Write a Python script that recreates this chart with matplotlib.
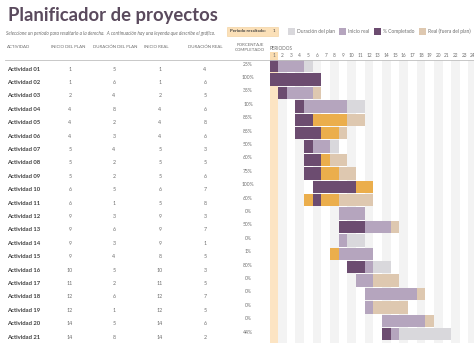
import matplotlib
matplotlib.use("Agg")
import matplotlib.pyplot as plt
import matplotlib.transforms as mtransforms
from matplotlib.patches import Rectangle
from matplotlib.lines import Line2D

activities = [f"Actividad {i:02d}" for i in range(1, 22)]
plan_start = [1, 1, 2, 4, 4, 4, 5, 5, 5, 6, 6, 9, 9, 9, 9, 10, 11, 12, 12, 14, 14]
plan_dur = [5, 6, 4, 8, 2, 3, 4, 2, 2, 5, 1, 3, 6, 3, 4, 5, 2, 6, 1, 5, 8]
actual_start = [1, 1, 2, 4, 4, 4, 5, 5, 5, 6, 5, 9, 9, 9, 8, 10, 11, 12, 12, 14, 14]
actual_dur = [4, 6, 5, 6, 8, 6, 3, 5, 6, 7, 8, 3, 7, 1, 5, 3, 5, 7, 5, 6, 2]
pct_complete = [25, 100, 35, 10, 85, 85, 50, 60, 75, 100, 60, 0, 50, 0, 1, 80, 0, 0, 0, 0, 44]
periods = list(range(1, 25))
highlight_period = 1

headers = ["ACTIVIDAD", "INICIO DEL PLAN", "DURACIÓN DEL PLAN", "INICIO REAL",
           "DURACIÓN REAL", "PORCENTAJE\nCOMPLETADO"]
legend_labels = ["Duración del plan", "Inicio real", "% Completado", "Real (fuera del plan)"]

colors = {
    "plan": "#D9D8DC",
    "actual": "#B5A5BE",
    "done": "#6C4C70",
    "beyond": "#DEC8B0",
    "done_beyond": "#EBAE4C",
}
title_color = "#5A4A5D"
text_dark = "#404040"
text_grey = "#6E6E6E"

W, H = 474, 343
FONT = "Lato"


def fx(x):
    return x / W


def fy(y):
    return 1 - y / H


def cell_kind(i, p):
    in_plan = plan_start[i] <= p < plan_start[i] + plan_dur[i]
    in_actual = actual_start[i] <= p < actual_start[i] + actual_dur[i]
    done_end = max(actual_start[i], actual_start[i] + actual_dur[i] * pct_complete[i] / 100 - 1)
    done = pct_complete[i] > 0 and actual_start[i] <= p <= done_end
    if done:
        return "done" if in_plan else "done_beyond"
    if in_actual:
        return "actual" if in_plan else "beyond"
    if in_plan:
        return "plan"
    return None


fig = plt.figure(figsize=(W / 100, H / 100), dpi=100)
fig.patch.set_facecolor("white")

top_px = 59.5
row_px = 13.4
ax_h = (H - top_px) / H
n_rows_visible = (H - top_px) / row_px
ylim = (0.5 + n_rows_visible, 0.5)

# gantt area
left_px = 269.5
period_px = 8.65
ax = fig.add_axes([fx(left_px), 0, 1 - fx(left_px), ax_h])
ax.set_xlim(0.5, 0.5 + (W - left_px) / period_px)
ax.set_ylim(*ylim)
for s in ax.spines.values():
    s.set_visible(False)

for p in periods:
    if p % 2 == 0:
        ax.axvspan(p - 0.5, p + 0.5, color="#F3F3F3", lw=0, zorder=0)
ax.axvspan(highlight_period - 0.5, highlight_period + 0.5, color="#FCE4C3", lw=0, zorder=1)

for i in range(len(activities)):
    row = i + 1
    run_kind, run_start = None, None
    for p in periods + [periods[-1] + 1]:
        k = cell_kind(i, p) if p <= periods[-1] else None
        if k != run_kind:
            if run_kind is not None:
                ax.barh(row, p - run_start, left=run_start - 0.5, height=0.93,
                        color=colors[run_kind], lw=0, zorder=2)
            run_kind, run_start = k, p

ax.set_xticks(periods)
ax.set_xticklabels([str(p) for p in periods], fontsize=3.4, color=text_grey, family=FONT)
ax.xaxis.tick_top()
ax.tick_params(axis="x", length=0, pad=1.2)
ax.set_yticks([])

blend = mtransforms.blended_transform_factory(ax.transData, ax.transAxes)
ax.add_patch(Rectangle((highlight_period - 0.5, 1.0), 1, 7 / (H - top_px), transform=blend,
                       clip_on=False, facecolor="#FADDB2", edgecolor="none", zorder=0))
ax.text(0.5, 1 + 11 / (H - top_px), "PERIODOS", transform=blend, fontsize=3.3,
        color=text_grey, family=FONT, va="center", ha="left")

# table area
tab = fig.add_axes([0, 0, fx(left_px), ax_h])
tab.set_xlim(0, left_px)
tab.set_ylim(*ylim)
tab.axis("off")

col_x = [70, 114, 160, 205]
for i, name in enumerate(activities):
    row = i + 1 + 0.21
    tab.text(7, row, name, fontsize=4.2, fontweight="bold", color=text_dark,
             family=FONT, va="center", ha="left")
    for x, v in zip(col_x, [plan_start[i], plan_dur[i], actual_start[i], actual_dur[i]]):
        tab.text(x, row, str(v), fontsize=3.8, color=text_grey, family=FONT,
                 va="center", ha="center")
    tab.text(248, i + 1 - 0.16, f"{pct_complete[i]}%", fontsize=3.6, color=text_grey,
             family=FONT, va="center", ha="center")

# header texts
fig.text(fx(7.5), fy(15), "Planificador de proyectos", fontsize=13.3, fontweight="bold",
         color=title_color, family=FONT, va="center", ha="left")
fig.text(fx(6), fy(33), "Seleccione un período para resaltarlo a la derecha.  A continuación hay una "
         "leyenda que describe el gráfico.", fontsize=3.45, style="italic", color=text_grey,
         family=FONT, va="center", ha="left")

head_x = [7, 68, 115, 156, 205, 250]
for x, h in zip(head_x, headers):
    fig.text(fx(x), fy(47.5), h, fontsize=3.2, color=text_grey, family=FONT,
             va="center", ha="left" if x == 7 else "center", linespacing=1.6)

fig.add_artist(Line2D([fx(5), 1], [fy(59.5), fy(59.5)], color="#BFBFBF", lw=0.6))

# highlighted period selector
fig.add_artist(Rectangle((fx(227), fy(36)), fx(51), 9 / H, facecolor="#FBE0B8",
                         edgecolor="#F3CD98", lw=0.4))
fig.text(fx(230), fy(31.5), "Período resaltado:", fontsize=3.2, fontweight="bold",
         color=text_dark, family=FONT, va="center", ha="left")
fig.text(fx(274), fy(31.5), str(highlight_period), fontsize=3.2, color=text_dark,
         family=FONT, va="center", ha="center")

# legend
legend_keys = ["plan", "actual", "done", "beyond"]
sq_x = [288, 339, 374, 419]
for x, key, lab in zip(sq_x, legend_keys, legend_labels):
    fig.add_artist(Rectangle((fx(x), fy(35)), fx(6.5), 7 / H, facecolor=colors[key], lw=0))
    fig.text(fx(x + 9), fy(31.5), lab, fontsize=3.55, color=text_grey, family=FONT,
             va="center", ha="left")

fig.savefig("out.png", dpi=100)
